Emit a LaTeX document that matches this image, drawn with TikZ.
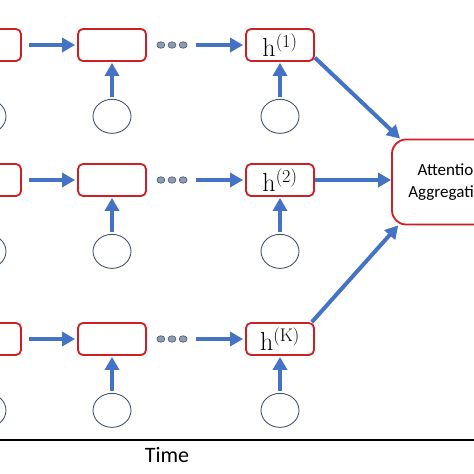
\documentclass[tikz,border=0pt]{standalone}
\usepackage{fontspec}
\newfontfamily\calibri{Carlito}
\usetikzlibrary{positioning,arrows.meta,shapes.geometric}
\definecolor{arrblue}{RGB}{68,114,196}
\definecolor{boxred}{RGB}{212,28,36}
\definecolor{circgray}{RGB}{68,84,106}
\definecolor{dotgray}{RGB}{140,156,180}
\tikzset{>=latex}
\tikzset{
  cell/.style={draw=boxred, line width=1.8pt, rounded corners=5pt,
    minimum width=68pt, minimum height=32pt, inner sep=0pt,
    font=\fontsize{26}{30}\selectfont},
  inp/.style={draw=circgray, line width=0.9pt, ellipse,
    minimum width=38pt, minimum height=34pt, inner sep=0pt},
  dot/.style={draw=circgray, fill=dotgray, line width=0.6pt, ellipse,
    minimum width=8pt, minimum height=6.5pt, inner sep=0pt},
  flow/.style={draw=arrblue, line width=4pt, -{Triangle[length=13pt,width=14pt]}}
}

\begin{document}
\begin{tikzpicture}[x=1pt,y=1pt]

        \useasboundingbox (0,0) rectangle (474,-474);
        \clip (0,0) rectangle (474,-474);

        % rows
        \foreach \r/\y/\lab in {1/-45/(1), 2/-180/(2), 3/-339/(K)} {
            \node [cell] (a\r) at (-13,\y) {};
            \node [cell] (b\r) at (112,\y) {};
            \node [cell] (h\r) at (280,\y) {h\textsuperscript{\lab}};

            \node [inp,below=37pt of a\r] (xa\r) {};
            \node [inp,below=37pt of b\r] (xb\r) {};
            \node [inp,below=37pt of h\r] (xh\r) {};

            \node [dot] (d\r) at (172,\y) {};
            \node [dot,left=2.5pt of d\r] (dl\r) {};
            \node [dot,right=2.5pt of d\r] (dr\r) {};

            \draw [flow,shorten <=7pt,shorten >=2pt] (a\r.east) -- (b\r.west);
            \draw [flow,shorten <=9pt,shorten >=2pt] (dr\r.east) -- (h\r.west);
            \draw [flow,shorten <=2pt,shorten >=1pt] (xb\r.north) -- (b\r.south);
            \draw [flow,shorten <=2pt,shorten >=1pt] (xh\r.north) -- (h\r.south);
        }

        % attention
        \node [draw=boxred,line width=1.8pt,rounded corners=14pt,
               minimum width=116pt,minimum height=85pt,align=center,
               font=\calibri\fontsize{17}{22}\selectfont] (att) at (450,-182)
               {Attention\\Aggregation};

        \draw [flow] (h1.-20) -- (att.139);
        \draw [flow] (h2.east) -- (h2.east -| att.west);
        \draw [flow] (h3.28) -- (att.-140);

        % time axis
        \coordinate (t0) at (0,-440);
        \coordinate (t1) at (474,-440);
        \draw [line width=1.5pt] (t0) -- (t1);
        \node [font=\calibri\fontsize{22}{26}\selectfont] (time) at (167,-455) {Time};

    \end{tikzpicture}
\end{document}
